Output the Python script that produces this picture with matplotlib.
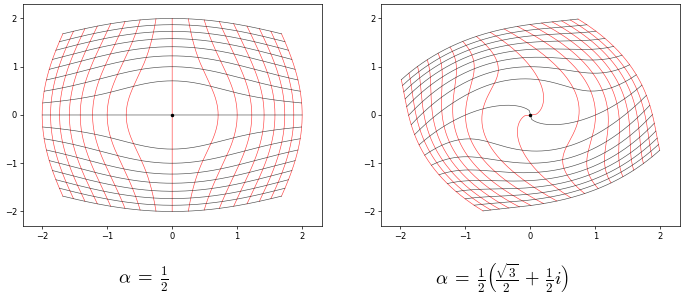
import numpy as np
import matplotlib.pyplot as plt

plt.rcParams['mathtext.fontset'] = 'cm'

# grid in the z-plane: lines x = c and y = c, c in grid_vals
grid_vals = [-4.0, -3.5, -3.0, -2.5, -2.0, -1.5, -1.0, -0.5, 0.0,
             0.5, 1.0, 1.5, 2.0, 2.5, 3.0, 3.5, 4.0]
grid_min, grid_max = -4.0, 4.0

alphas = [0.5, 0.5 * (np.sqrt(3) / 2 + 0.5j)]
titles = [r'$\alpha\;=\;\frac{1}{2}$',
          r'$\alpha\;=\;\frac{1}{2}\left(\frac{\sqrt{3}}{2}\,+\,\frac{1}{2}i\right)$']
ticks = [-2, -1, 0, 1, 2]


def f(z, a):
    # radial stretch z -> z |z|^(a-1)
    r = np.abs(z)
    out = np.zeros_like(z, dtype=complex)
    nz = r > 0
    out[nz] = z[nz] * r[nz] ** (a - 1)
    return out


t = np.linspace(grid_min, grid_max, 2001)

fig = plt.figure(figsize=(6.85, 2.95), dpi=100)
boxes = [[0.0331, 0.234, 0.4365, 0.7525], [0.5562, 0.234, 0.4365, 0.7525]]
text_x = [143 / 685, 502 / 685]

for k, a in enumerate(alphas):
    ax = fig.add_axes(boxes[k])
    for c in grid_vals:
        w = f(c + 1j * t, a)   # vertical line
        ax.plot(w.real, w.imag, color='red', lw=0.45, alpha=0.75)
    for c in grid_vals:
        w = f(t + 1j * c, a)   # horizontal line
        ax.plot(w.real, w.imag, color='black', lw=0.45, alpha=0.7)
    ax.plot([0], [0], 'k.', ms=3)
    ax.set_xlim(-2.3, 2.3)
    ax.set_ylim(-2.3, 2.3)
    ax.set_xticks(ticks)
    ax.set_yticks(ticks)
    ax.tick_params(labelsize=6, length=2, width=0.5, pad=2)
    for s in ax.spines.values():
        s.set_linewidth(0.5)
    fig.text(text_x[k], 1 - 279 / 295, titles[k], ha='center', va='center', fontsize=13.5)

fig.savefig('out.png', dpi=100)
